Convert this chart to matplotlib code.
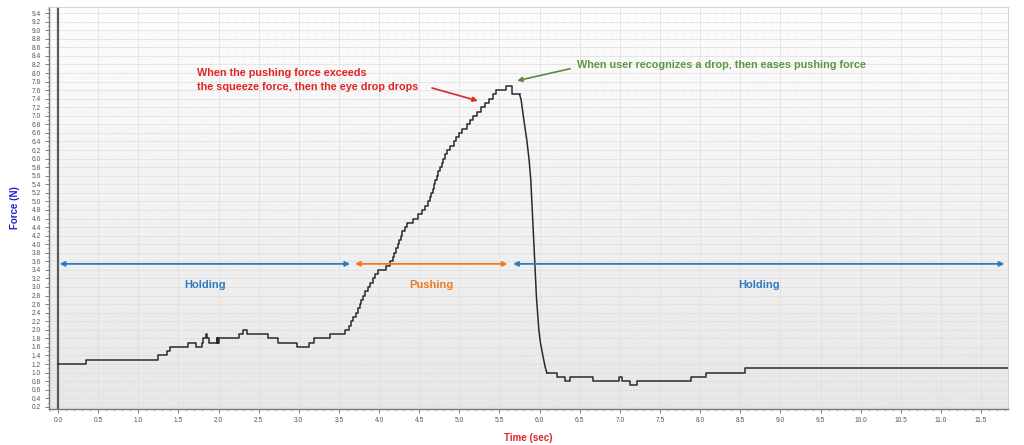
import matplotlib
matplotlib.use("Agg")
import matplotlib.pyplot as plt
import numpy as np
from matplotlib.ticker import MultipleLocator, FormatStrFormatter

plt.rcParams['font.family'] = ['Liberation Sans', 'DejaVu Sans']

# holding + pushing phase (step data)
t_push = [0.0, 0.35, 1.25, 1.36, 1.39, 1.62, 1.72, 1.79, 1.81, 1.84, 1.86, 1.88,
          1.98, 1.985, 1.99, 1.995, 2.00, 2.25, 2.31, 2.35, 2.62, 2.74, 2.98, 3.13,
          3.19, 3.39, 3.58, 3.62, 3.65, 3.68, 3.71, 3.74, 3.76, 3.78, 3.80, 3.83,
          3.86, 3.89, 3.92, 3.95, 3.99, 4.09, 4.14, 4.17, 4.19, 4.21, 4.23, 4.25,
          4.27, 4.29, 4.32, 4.35, 4.42, 4.49, 4.53, 4.57, 4.61, 4.63, 4.65, 4.67,
          4.69, 4.70, 4.72, 4.74, 4.76, 4.78, 4.80, 4.82, 4.85, 4.88, 4.93, 4.96,
          4.99, 5.03, 5.09, 5.13, 5.17, 5.22, 5.27, 5.32, 5.37, 5.42, 5.46, 5.58,
          5.65, 5.75]
f_push = [1.2, 1.3, 1.4, 1.5, 1.6, 1.7, 1.6, 1.7, 1.8, 1.9, 1.8, 1.7,
          1.8, 1.7, 1.8, 1.7, 1.8, 1.9, 2.0, 1.9, 1.8, 1.7, 1.6, 1.7,
          1.8, 1.9, 2.0, 2.1, 2.2, 2.3, 2.4, 2.5, 2.6, 2.7, 2.8, 2.9,
          3.0, 3.1, 3.2, 3.3, 3.4, 3.5, 3.6, 3.7, 3.8, 3.9, 4.0, 4.1,
          4.2, 4.3, 4.4, 4.5, 4.6, 4.7, 4.8, 4.9, 5.0, 5.1, 5.2, 5.3,
          5.4, 5.5, 5.6, 5.7, 5.8, 5.9, 6.0, 6.1, 6.2, 6.3, 6.4, 6.5,
          6.6, 6.7, 6.8, 6.9, 7.0, 7.1, 7.2, 7.3, 7.4, 7.5, 7.6, 7.7,
          7.5, 7.5]

# release
t_drop = [5.75, 5.77, 5.80, 5.84, 5.87, 5.89, 5.92, 5.94, 5.96, 5.99, 6.01,
          6.04, 6.07, 6.09]
f_drop = [7.5, 7.37, 6.95, 6.44, 5.95, 5.50, 4.34, 3.57, 2.77, 2.00, 1.70,
          1.40, 1.12, 1.0]

# holding again
t_rest = [6.09, 6.22, 6.31, 6.38, 6.67, 6.99, 7.02, 7.13, 7.21, 7.88, 8.07, 8.56, 11.83]
f_rest = [1.0, 0.9, 0.8, 0.9, 0.8, 0.9, 0.8, 0.7, 0.8, 0.9, 1.0, 1.1, 1.1]

phases = ["Holding", "Pushing", "Holding"]
phase_start = [0.02, 3.70, 5.67]
phase_end = [3.64, 5.60, 11.79]
phase_colors = ["#2E7BBF", "#F07A22", "#2E7BBF"]
arrow_y = 3.54
label_y = 3.05

fig = plt.figure(figsize=(10.24, 4.45), dpi=100)
ax = fig.add_axes([0.048, 0.081, 0.936, 0.904])
ax.set_xlim(-0.11, 11.83)
ax.set_ylim(0.15, 9.55)

# light gradient background
grad = np.linspace(0.99, 0.905, 256).reshape(-1, 1)
ax.imshow(grad, extent=[0, 1, 0, 1], transform=ax.transAxes, aspect='auto',
          cmap='gray', vmin=0, vmax=1, zorder=0)

ax.set_xticks(np.arange(0, 11.6, 0.5))
ax.set_yticks(np.arange(0.2, 9.5, 0.2))
ax.xaxis.set_minor_locator(MultipleLocator(0.1))
ax.yaxis.set_minor_locator(MultipleLocator(0.1))
ax.xaxis.set_major_formatter(FormatStrFormatter('%.1f'))
ax.yaxis.set_major_formatter(FormatStrFormatter('%.1f'))
ax.grid(True, which='major', color='#dedede', lw=0.5, zorder=1)
ax.grid(True, which='minor', axis='x', color='#e8e8e8', lw=0.4, ls=':', zorder=1)
ax.tick_params(which='major', labelsize=4.8, labelcolor='#555555', color='#666666',
               length=3, width=0.6, pad=3)
ax.tick_params(which='minor', color='#888888', length=1.5, width=0.4)
for s in ['left', 'bottom']:
    ax.spines[s].set_color('#777777')
    ax.spines[s].set_linewidth(1.0)
for s in ['top', 'right']:
    ax.spines[s].set_color('#cccccc')
    ax.spines[s].set_linewidth(0.6)

ax.axvline(0, color='#5a5a5a', lw=1.6, zorder=2)

ax.plot(t_push, f_push, drawstyle='steps-post', color='#2b2b2b', lw=1.1, zorder=4)
ax.plot(t_drop, f_drop, color='#2b2b2b', lw=1.1, zorder=4)
ax.plot(t_rest, f_rest, drawstyle='steps-post', color='#2b2b2b', lw=1.1, zorder=4)

for name, a, b, c in zip(phases, phase_start, phase_end, phase_colors):
    ax.annotate('', xy=(a, arrow_y), xytext=(b, arrow_y),
                arrowprops=dict(arrowstyle='<|-|>', color=c, lw=1.3,
                                mutation_scale=7, shrinkA=0, shrinkB=0), zorder=5)
    ax.text((a + b) / 2, label_y, name, color=c, fontsize=8, fontweight='bold',
            ha='center', va='center', zorder=5)

# red note (left aligned) + its arrow
ax.text(1.73, 7.83, "When the pushing force exceeds\nthe squeeze force, then the eye drop drops",
        color='#E02424', fontsize=7.8, fontweight='bold', ha='left', va='center',
        linespacing=1.45, zorder=6)
ax.annotate('', xy=(5.23, 7.35), xytext=(4.66, 7.65),
            arrowprops=dict(arrowstyle='-|>', color='#D42A2A', lw=1.2,
                            mutation_scale=7, shrinkA=0, shrinkB=0), zorder=6)

# green note + its arrow
ax.text(6.46, 8.19, "When user recognizes a drop, then eases pushing force",
        color='#5E9640', fontsize=7.8, fontweight='bold', ha='left', va='center', zorder=6)
ax.annotate('', xy=(5.72, 7.82), xytext=(6.38, 8.10),
            arrowprops=dict(arrowstyle='-|>', color='#5E8A3E', lw=1.2,
                            mutation_scale=7, shrinkA=0, shrinkB=0), zorder=6)

ax.set_xlabel('Time (sec)', color='#E02424', fontsize=7, fontweight='bold', labelpad=6)
ax.set_ylabel('Force (N)', color='#2222CC', fontsize=7, fontweight='bold', labelpad=8)

fig.savefig('out.png', dpi=100)
